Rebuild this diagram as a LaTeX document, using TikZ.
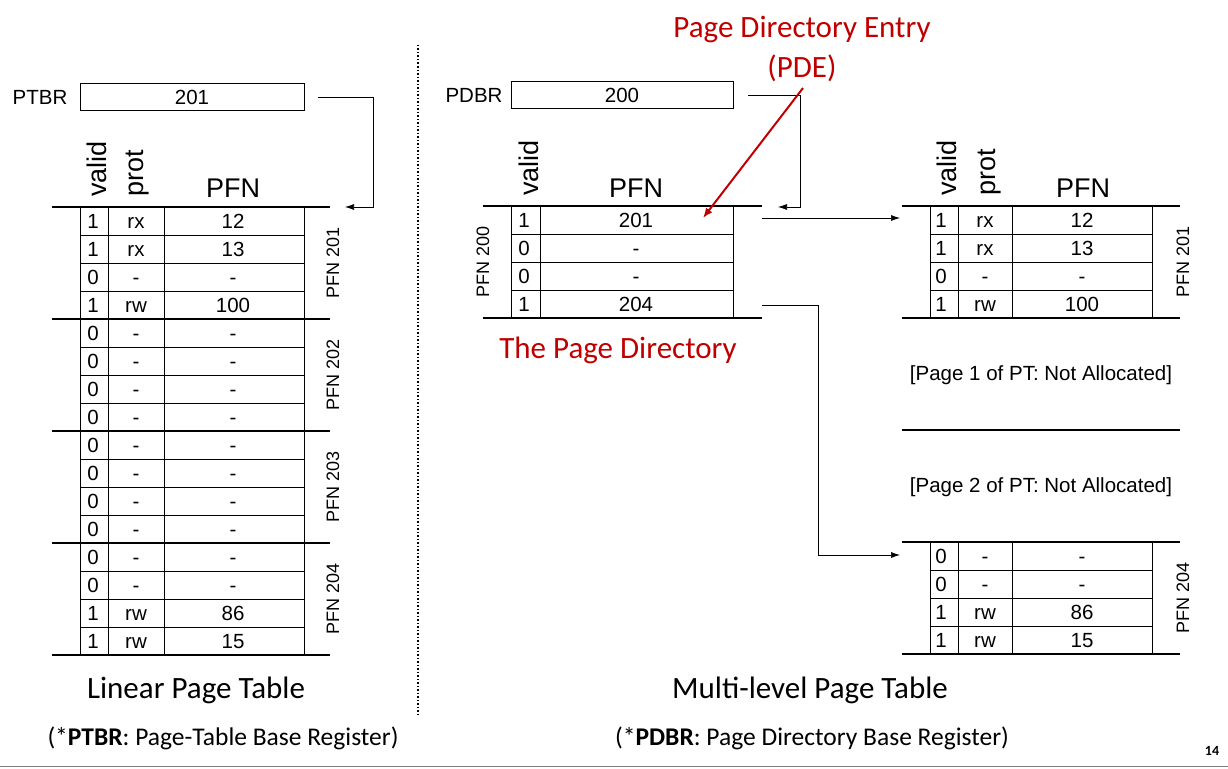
\documentclass[tikz,border=0pt]{standalone}
\usepackage{fontspec}
\setmainfont{Liberation Sans}
\newfontfamily\calfont{Carlito}
\usetikzlibrary{arrows.meta}
\definecolor{pdered}{RGB}{192,0,0}
\begin{document}
\begin{tikzpicture}[x=1pt,y=-1pt]
      \tikzstyle{cell}=[inner sep=0pt,text height=14pt,text depth=0pt,font=\fontsize{20.5}{22}\selectfont]
      \tikzstyle{note}=[inner sep=0pt,font=\fontsize{20.5}{22}\selectfont]
      \tikzstyle{head}=[inner sep=0pt,font=\fontsize{27}{29}\selectfont]
      \tikzstyle{vhead}=[head,rotate=90,anchor=west]
      \tikzstyle{side}=[inner sep=0pt,rotate=90,font=\fontsize{18}{20}\selectfont]
      \tikzstyle{rule}=[draw,line width=1.6pt]
      \tikzstyle{grid}=[draw,line width=0.6pt]
      \tikzstyle{link}=[draw,line width=0.7pt,-{Latex[length=9pt,width=6pt]}]
      \tikzstyle{redtext}=[pdered,inner sep=0pt,font=\calfont\fontsize{31}{33}\selectfont]
      \tikzstyle{caption}=[inner sep=0pt,font=\calfont\fontsize{31}{33}\selectfont]
      \tikzstyle{subcaption}=[inner sep=0pt,font=\calfont\fontsize{25.5}{27}\selectfont]
      \useasboundingbox (0,0) rectangle (1228,768);
      % linear page table
      \node[note] (ptbr) at (40,97) {PTBR};
      \path[grid] (80,83) rectangle (304,110);
      \node[note] (ptbrval) at (192,97) {201};
      \node[vhead] at (97,197) {valid};
      \node[vhead] at (138,197) {prot};
      \node[head] at (233,188) {PFN};
      \foreach \v/\p/\f [count=\i from 0] in {1/rx/12,1/rx/13,0/-/-,1/rw/100,0/-/-,0/-/-,0/-/-,0/-/-,0/-/-,0/-/-,0/-/-,0/-/-,0/-/-,0/-/-,1/rw/86,1/rw/15} {
        \node[cell] at (93,221+28*\i) {\v};
        \node[cell] at (136,221+28*\i) {\p};
        \node[cell] at (233,221+28*\i) {\f};
        \path[grid] (80,235+28*\i) -- (304,235+28*\i);
      }
      \foreach \x in {80,108,164,304} \path[grid] (\x,207) -- (\x,655);
      \foreach \g [count=\i from 0] in {201,202,203,204} {
        \path[rule] (52,207+112*\i) -- (330,207+112*\i);
        \node[side] at (333,263+112*\i) {PFN \g};
      }
      \path[rule] (52,655) -- (330,655);
      \coordinate (ptbrout) at (318,97);
      \coordinate (lintop) at (345,207);
      \path[link] (ptbrout) -- (373,97) |- (lintop);
      \node[caption] at (196,690) {Linear Page Table};
      \node[subcaption] at (223,738) {(*\textbf{PTBR}: Page-Table Base Register)};
      % divider
      \path[draw,line width=1.5pt,dotted] (418,45) -- (418,715);
      % page directory
      \node[note] (pdbr) at (474,95) {PDBR};
      \path[grid] (511,81) rectangle (733,108);
      \node[note] (pdbrval) at (622,95) {200};
      \node[vhead] at (529,196) {valid};
      \node[head] at (636,188) {PFN};
      \foreach \v/\f [count=\i from 0] in {1/201,0/-,0/-,1/204} {
        \node[cell] (pd\i) at (524,220+28*\i) {\v};
        \node[cell] at (636,220+28*\i) {\f};
        \path[grid] (511,234+28*\i) -- (733,234+28*\i);
      }
      \foreach \x in {511,540,733} \path[grid] (\x,206) -- (\x,318);
      \path[rule] (483,206) -- (762,206);
      \path[rule] (483,318) -- (762,318);
      \node[side] at (483,262) {PFN 200};
      \coordinate (pdbrout) at (748,95);
      \coordinate (pdtop) at (778,207);
      \path[link] (pdbrout) -- (800,95) |- (pdtop);
      \node[redtext] (pdname) at (618,350) {The Page Directory};
      \node[redtext] (pde) at (802,30) {Page Directory Entry};
      \node[redtext] (pdelbl) at (802,68) {(PDE)};
      \coordinate (pdefrom) at (803,88);
      \coordinate (pdeto) at (703,218);
      \path[draw,pdered,line width=2pt,-{Latex[length=10pt,width=8pt]}] (pdefrom) -- (pdeto);
      % second level
      \coordinate (e0) at (762,218);
      \coordinate (t0) at (900,218);
      \coordinate (e3) at (762,305);
      \coordinate (t3) at (900,555);
      \path[link] (e0) -- (t0);
      \path[link] (e3) -- (818,305) |- (t3);
      \node[vhead] at (947,196) {valid};
      \node[vhead] at (990,196) {prot};
      \node[head] at (1083,188) {PFN};
      \foreach \v/\p/\f [count=\i from 0] in {1/rx/12,1/rx/13,0/-/-,1/rw/100} {
        \node[cell] at (941,220+28*\i) {\v};
        \node[cell] at (985,220+28*\i) {\p};
        \node[cell] at (1082,220+28*\i) {\f};
        \path[grid] (930,234+28*\i) -- (1152,234+28*\i);
      }
      \foreach \x in {930,958,1012,1152} \path[grid] (\x,206) -- (\x,318);
      \path[rule] (902,206) -- (1180,206);
      \path[rule] (902,318) -- (1180,318);
      \node[side] at (1183,262) {PFN 201};
      \node[note] at (1041,375) {[Page 1 of PT: Not Allocated]};
      \path[rule] (902,430) -- (1180,430);
      \node[note] at (1041,487) {[Page 2 of PT: Not Allocated]};
      \foreach \v/\p/\f [count=\i from 0] in {0/-/-,0/-/-,1/rw/86,1/rw/15} {
        \node[cell] at (941,556+28*\i) {\v};
        \node[cell] at (985,556+28*\i) {\p};
        \node[cell] at (1082,556+28*\i) {\f};
        \path[grid] (930,570+28*\i) -- (1152,570+28*\i);
      }
      \foreach \x in {930,958,1012,1152} \path[grid] (\x,542) -- (\x,654);
      \path[rule] (902,542) -- (1180,542);
      \path[rule] (902,654) -- (1180,654);
      \node[side] at (1183,598) {PFN 204};
      \node[caption] at (810,690) {Multi-level Page Table};
      \node[subcaption] at (812,738) {(*\textbf{PDBR}: Page Directory Base Register)};
      \node[inner sep=0pt,font=\calfont\bfseries\fontsize{14}{15}\selectfont] at (1212,751) {14};
      \path[draw,gray,line width=0.8pt] (0,766) -- (1228,766);
    \end{tikzpicture}
\end{document}
